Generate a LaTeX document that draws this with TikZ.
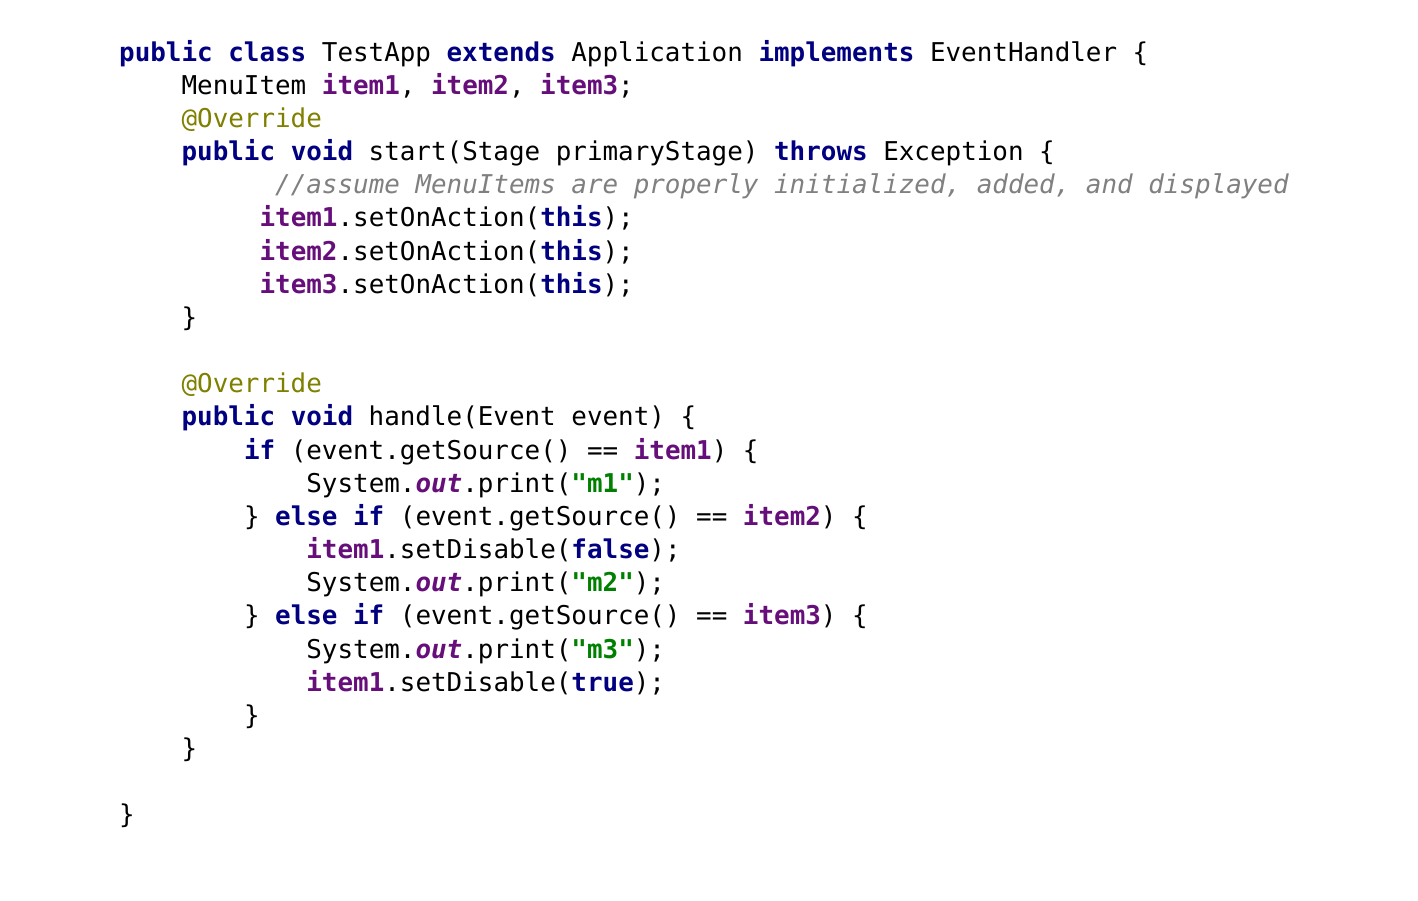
\documentclass[tikz,border=0pt]{standalone}
\usepackage{fontspec}
\newfontfamily\codefont{DejaVu Sans Mono}
\definecolor{kwc}{HTML}{000080}
\definecolor{fldc}{HTML}{660E7A}
\definecolor{annc}{HTML}{808000}
\definecolor{strc}{HTML}{008000}
\definecolor{cmtc}{HTML}{808080}
\newcommand{\kw}[1]{{\bfseries\color{kwc}#1}}
\newcommand{\fld}[1]{{\bfseries\color{fldc}#1}}
\newcommand{\ann}[1]{{\color{annc}#1}}
\newcommand{\strl}[1]{{\bfseries\color{strc}#1}}
\newcommand{\cmt}[1]{{\itshape\color{cmtc}#1}}
\newcommand{\stf}[1]{{\bfseries\itshape\color{fldc}#1}}
\tikzset{codeline/.style={anchor=base west,inner sep=0pt,outer sep=0pt,font=\codefont\fontsize{12.95pt}{16.6pt}\selectfont,text=black}}
\newcommand{\cl}[4]{\node[codeline] (#1) at ({59.6pt+#2*7.8pt},{-30.5pt-#3*16.585pt}) {#4};}
\begin{document}
\begin{tikzpicture}
\useasboundingbox[fill=white] (0,0) rectangle (709pt,-450pt);
\cl{l0}{0}{0}{\kw{public} \kw{class} TestApp \kw{extends} Application \kw{implements} EventHandler \{}
\cl{l1}{4}{1}{MenuItem \fld{item1}, \fld{item2}, \fld{item3};}
\cl{l2}{4}{2}{\ann{@Override}}
\cl{l3}{4}{3}{\kw{public} \kw{void} start(Stage primaryStage) \kw{throws} Exception \{}
\cl{l4}{10}{4}{\cmt{//assume MenuItems are properly initialized, added, and displayed}}
\cl{l5}{9}{5}{\fld{item1}.setOnAction(\kw{this});}
\cl{l6}{9}{6}{\fld{item2}.setOnAction(\kw{this});}
\cl{l7}{9}{7}{\fld{item3}.setOnAction(\kw{this});}
\cl{l8}{4}{8}{\}}
\cl{l10}{4}{10}{\ann{@Override}}
\cl{l11}{4}{11}{\kw{public} \kw{void} handle(Event event) \{}
\cl{l12}{8}{12}{\kw{if} (event.getSource() == \fld{item1}) \{}
\cl{l13}{12}{13}{System.\stf{out}.print(\strl{"m1"});}
\cl{l14}{8}{14}{\} \kw{else} \kw{if} (event.getSource() == \fld{item2}) \{}
\cl{l15}{12}{15}{\fld{item1}.setDisable(\kw{false});}
\cl{l16}{12}{16}{System.\stf{out}.print(\strl{"m2"});}
\cl{l17}{8}{17}{\} \kw{else} \kw{if} (event.getSource() == \fld{item3}) \{}
\cl{l18}{12}{18}{System.\stf{out}.print(\strl{"m3"});}
\cl{l19}{12}{19}{\fld{item1}.setDisable(\kw{true});}
\cl{l20}{8}{20}{\}}
\cl{l21}{4}{21}{\}}
\cl{l23}{0}{23}{\}}
\end{tikzpicture}
\end{document}
